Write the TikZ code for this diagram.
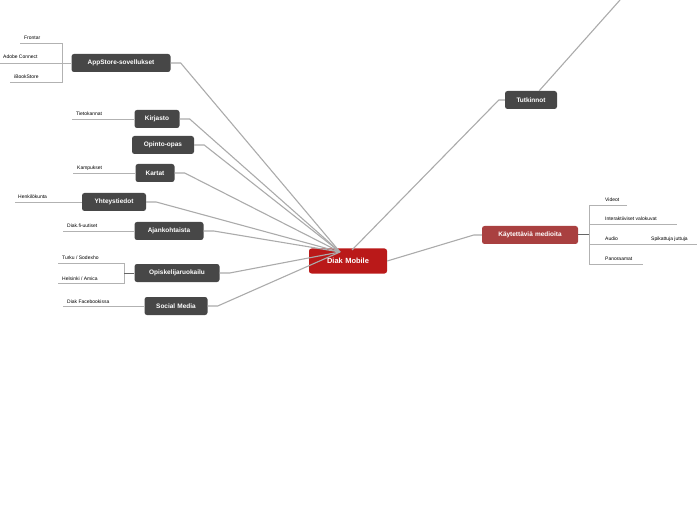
\documentclass[tikz,border=0pt]{standalone}
\usepackage{fontspec}
\setmainfont{Liberation Sans}
\begin{document}
\begin{tikzpicture}[x=1bp,y=-1bp,
 topic/.style={fill=black!72,text=white,font=\bfseries\fontsize{6.5}{7}\selectfont,rounded corners=2.5bp,inner sep=0pt,minimum height=18bp,anchor=center},
 leaf/.style={font=\fontsize{5}{6}\selectfont,inner sep=0pt,anchor=base west},
 conn/.style={draw=black!33,line width=1.1bp},
 ul/.style={draw=black!30,line width=0.6bp}]
\useasboundingbox (0,0) rectangle (697,520);
\node[topic,fill=red!70!black!90,text width=78bp,align=center,minimum height=25bp,font=\bfseries\fontsize{7.5}{8}\selectfont] (main) at (348,261) {Diak Mobile};
\node[topic,text width=99bp,align=center] (app) at (121,63) {AppStore-sovellukset};
\node[topic,text width=45bp,align=center] (kir) at (157,119) {Kirjasto};
\node[topic,text width=62bp,align=center] (opo) at (163,145) {Opinto-opas};
\node[topic,text width=39bp,align=center] (kar) at (155,173) {Kartat};
\node[topic,text width=64bp,align=center] (yht) at (114,202) {Yhteystiedot};
\node[topic,text width=69bp,align=center] (ajk) at (169,231) {Ajankohtaista};
\node[topic,text width=85bp,align=center] (ops) at (177,273) {Opiskelijaruokailu};
\node[topic,text width=63bp,align=center] (som) at (176,306) {Social Media};
\node[topic,text width=52bp,align=center] (tut) at (531,100) {Tutkinnot};
\node[topic,fill=red!55!black!75,text width=96bp,align=center] (kay) at (530,235) {Käytettäviä medioita};
\coordinate (m) at (340,252);
\foreach \n/\y in {app/63,kir/119,opo/145,kar/173,yht/202,ajk/231,ops/273,som/306}{
 \draw[conn] (m) -- ([xshift=10bp]\n.east) -- (\n.east);}
\draw[conn] (352,250) -- ([xshift=-6bp]tut.west) -- (tut.west);
\draw[conn] (tut) -- (620,0);
\draw[conn] (main.east) -- ([xshift=-8bp]kay.west) -- (kay.west);
% left leaves
\coordinate (fr) at (20,43); \coordinate (ac) at (0,63); \coordinate (ib) at (10,82);
\node[leaf] (lfr) at (24,40) {Frontar};
\node[leaf] (lac) at (3,59) {Adobe Connect};
\node[leaf] (lib) at (14,79) {iBookStore};
\draw[ul] (fr) -- (62,43) -- (62,82) -- (ib); \draw[ul] (ac) -- (app.west);
\node[leaf] at (76,116) {Tietokannat}; \draw[ul] (72,119) -- (kir.west);
\node[leaf] at (77,170) {Kampukset}; \draw[ul] (73,173) -- (kar.west);
\node[leaf] at (18,199) {Henkilökunta}; \draw[ul] (15,202) -- (yht.west);
\node[leaf] at (67,228) {Diak.fi-uutiset}; \draw[ul] (63,231) -- (ajk.west);
\node[leaf] at (62,260) {Turku / Sodexho};
\node[leaf] at (62,280) {Helsinki / Amica};
\draw[ul] (58,263) -- (124,263) -- (124,283) -- (58,283);
\draw[ul,line width=1bp,draw=black!60] (124,273) -- (ops.west);
\node[leaf] at (67,303) {Diak Facebookissa}; \draw[ul] (63,306) -- (som.west);
% right leaves
\draw[ul,line width=1bp,draw=black!60] (kay.east) -- (589,235);
\draw[ul] (627,205) -- (589,205) -- (589,264) -- (643,264);
\draw[ul] (589,224) -- (677,224);
\draw[ul] (589,244) -- (697,244);
\node[leaf] at (605,202) {Videot};
\node[leaf] at (605,221) {Interaktiiviset valokuvat};
\node[leaf] at (605,241) {Audio};
\node[leaf] at (651,241) {Spikattuja juttuja};
\node[leaf] at (605,261) {Panoraamat};
\end{tikzpicture}
\end{document}
